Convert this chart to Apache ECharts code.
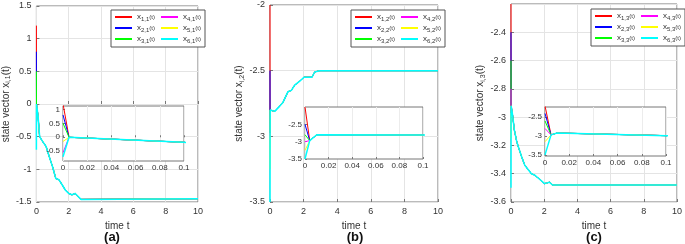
<!DOCTYPE html>
<html>
<head>
<meta charset="utf-8">
<script src="https://cdn.jsdelivr.net/npm/echarts@6/dist/echarts.min.js"></script>
<style>
html, body { margin: 0; padding: 0; background: #fff; }
#chart { width: 685px; height: 244px; }
</style>
</head>
<body>
<div id="chart"></div>
<script>
// line colours, x1 .. x6
const lineColors = ['#ff0000', '#0000ff', '#00ff00', '#ff00ff', '#ffff00', '#00ffff'];

// (a) first component
const initA = [1.2, 0.8, 0.5, -0.55, -0.15, -0.7];
const timeA = [0.005, 0.1, 0.2, 0.4, 0.6, 0.8, 1.0, 1.2, 1.4, 1.6, 1.8, 2.0, 2.2, 2.4, 2.6, 2.76, 10];
const stateA = [0, -0.18, -0.5, -0.58, -0.65, -0.81, -0.96, -1.14, -1.16, -1.24, -1.32, -1.37, -1.39, -1.37, -1.42, -1.46, -1.45];

// (b) second component
const initB = [-2.0, -2.5, -2.8, -3.0, -3.25, -3.5];
const timeB = [0.004, 0.01, 0.1, 0.28, 0.58, 0.78, 1.07, 1.27, 1.47, 1.77, 2.02, 2.26, 2.5, 2.66, 2.96, 10];
const stateB = [-2.97, -2.8, -2.81, -2.81, -2.77, -2.74, -2.66, -2.65, -2.61, -2.58, -2.55, -2.55, -2.55, -2.51, -2.5, -2.5];

// (c) third component
const initC = [-2.2, -2.4, -2.6, -2.8, -3.15, -3.5];
const timeC = [0.005, 0.01, 0.1, 0.2, 0.34, 0.44, 0.64, 0.83, 1.03, 1.23, 1.43, 1.63, 1.83, 2.02, 2.32, 2.5, 10];
const stateC = [-2.97, -2.92, -2.99, -3.09, -3.17, -3.21, -3.28, -3.34, -3.37, -3.40, -3.41, -3.43, -3.45, -3.47, -3.46, -3.48, -3.48];

// axis ticks
const mainTimeTicks = [0, 2, 4, 6, 8, 10];
const insetTimeTicks = [0, 0.02, 0.04, 0.06, 0.08, 0.1];
const insetTicksA = [-0.5, 0, 0.5, 1];
const insetTicksB = [-3.5, -3, -2.5];
const insetTicksC = [-3.5, -3, -2.5];

const FONT = "'Liberation Sans', Arial, sans-serif";

const panels = [
  { tag: '(a)', comp: 1, init: initA, time: timeA, state: stateA,
    main: { left: 30, top: 6, width: 168, height: 196, min: -1.5, max: 1.5, interval: 0.5, hideMax: false },
    inset: { left: 63, top: 106, width: 121, height: 55, min: -0.85, max: 1.12, ticks: insetTicksA },
    legend: { left: 111, top: 10 }, tagX: 112 },
  { tag: '(b)', comp: 2, init: initB, time: timeB, state: stateB,
    main: { left: 270, top: 5, width: 168, height: 197, min: -3.5, max: -2, interval: 0.5, hideMax: false },
    inset: { left: 305, top: 107, width: 118, height: 52, min: -3.5, max: -2, ticks: insetTicksB },
    legend: { left: 351, top: 10 }, tagX: 355 },
  { tag: '(c)', comp: 3, init: initC, time: timeC, state: stateC,
    main: { left: 511, top: 4, width: 168, height: 198, min: -3.6, max: -2.2, interval: 0.2, hideMax: true },
    inset: { left: 545, top: 107, width: 121, height: 49, min: -3.53, max: -2.23, ticks: insetTicksC },
    legend: { left: 591, top: 9 }, tagX: 594 }
];

const grid = [], xAxis = [], yAxis = [], series = [], legend = [], graphic = [];

const subRich = {
  x: { fontSize: 8, lineHeight: 10, fontFamily: FONT, color: '#333' },
  s: { fontSize: 6, lineHeight: 6, verticalAlign: 'bottom', fontFamily: FONT, color: '#333' },
  p: { fontSize: 6, lineHeight: 10, fontFamily: FONT, color: '#333', padding: [0, 4, 0, 0] }
};

panels.forEach((p, k) => {
  const gm = 2 * k, gi = 2 * k + 1;
  grid.push({ left: p.main.left, top: p.main.top, width: p.main.width, height: p.main.height,
    show: true, borderColor: '#777', borderWidth: 1, backgroundColor: 'transparent', z: 0 });
  grid.push({ left: p.inset.left, top: p.inset.top, width: p.inset.width, height: p.inset.height,
    show: true, borderColor: '#777', borderWidth: 1, backgroundColor: '#fff', z: 3 });

  // main axes
  xAxis.push({
    gridIndex: gm, type: 'value', min: 0, max: 10, interval: 2,
    name: 'time t', nameLocation: 'middle', nameGap: 14,
    nameTextStyle: { fontSize: 10, color: '#333', fontFamily: FONT },
    axisLine: { show: false },
    axisTick: { inside: true, length: 3, lineStyle: { color: '#777' } },
    axisLabel: { fontSize: 9, color: '#333', margin: 5, fontFamily: FONT,
      customValues: mainTimeTicks },
    splitLine: { show: true, lineStyle: { color: '#e4e4e4', width: 1 } }
  });
  yAxis.push({
    gridIndex: gm, type: 'value', min: p.main.min, max: p.main.max, interval: p.main.interval,
    name: '{a|state vector x}{s|i,' + p.comp + '}{a|(t)}', nameLocation: 'middle', nameGap: 18,
    nameTextStyle: { color: '#333', rich: {
      a: { fontSize: 10, lineHeight: 12, fontFamily: FONT, color: '#333' },
      s: { fontSize: 7, lineHeight: 7, verticalAlign: 'bottom', fontFamily: FONT, color: '#333' } } },
    axisLine: { show: false },
    axisTick: { inside: true, length: 3, lineStyle: { color: '#777' } },
    axisLabel: { fontSize: 9, color: '#333', margin: 5, fontFamily: FONT, showMaxLabel: !p.main.hideMax },
    splitLine: { show: true, lineStyle: { color: '#e4e4e4', width: 1 } }
  });

  // inset axes
  xAxis.push({
    gridIndex: gi, type: 'value', min: 0, max: 0.1, interval: 0.02, z: 4,
    axisLine: { show: false },
    axisTick: { inside: true, length: 2, lineStyle: { color: '#777' } },
    axisLabel: { fontSize: 8, color: '#333', margin: 3, fontFamily: FONT,
      customValues: insetTimeTicks },
    splitLine: { show: true, lineStyle: { color: '#ececec', width: 1 } }
  });
  yAxis.push({
    gridIndex: gi, type: 'value', min: p.inset.min, max: p.inset.max, z: 4,
    axisLine: { show: false },
    axisTick: { inside: true, length: 2, lineStyle: { color: '#777' }, customValues: p.inset.ticks },
    axisLabel: { fontSize: 8, color: '#333', margin: 3, fontFamily: FONT, customValues: p.inset.ticks },
    splitLine: { show: false }
  });

  const names = [];
  lineColors.forEach((c, i) => {
    const name = (i + 1) + ',' + p.comp;
    names.push(name);
    const data = [[0, p.init[i]]].concat(p.time.map((t, j) => [t, p.state[j]]));
    // the last (cyan) trace lies on top of the others, drawn a little wider
    const w = i === lineColors.length - 1 ? 1.5 : 1;
    const base = { name, type: 'line', data, showSymbol: false, symbol: 'none',
      animation: false, color: c, lineStyle: { color: c, width: w } };
    series.push(Object.assign({}, base, { xAxisIndex: gm, yAxisIndex: gm, z: 2 }));
    series.push(Object.assign({}, base, { xAxisIndex: gi, yAxisIndex: gi, z: 5, clip: true }));
  });

  legend.push({
    data: names, left: p.legend.left, top: p.legend.top, orient: 'vertical', height: 34,
    itemGap: 2, itemWidth: 17, itemHeight: 2, icon: 'rect', z: 10,
    backgroundColor: '#fff', borderColor: '#555', borderWidth: 1, borderRadius: 0,
    padding: [3, 0, 3, 4], selectedMode: false,
    formatter: n => '{x|x}{s|' + n + '}{p|(t)}',
    textStyle: { rich: subRich }
  });

  graphic.push({ type: 'text', x: p.tagX, y: 237, z: 10,
    style: { text: p.tag, fill: '#111', font: 'bold 13px ' + FONT,
      align: 'center', verticalAlign: 'middle', textAlign: 'center', textVerticalAlign: 'middle' } });
});

const chart = echarts.init(document.getElementById('chart'), null, { renderer: 'canvas' });
chart.setOption({
  backgroundColor: '#fff',
  animation: false,
  grid, xAxis, yAxis, series, legend, graphic
});
</script>
</body>
</html>
